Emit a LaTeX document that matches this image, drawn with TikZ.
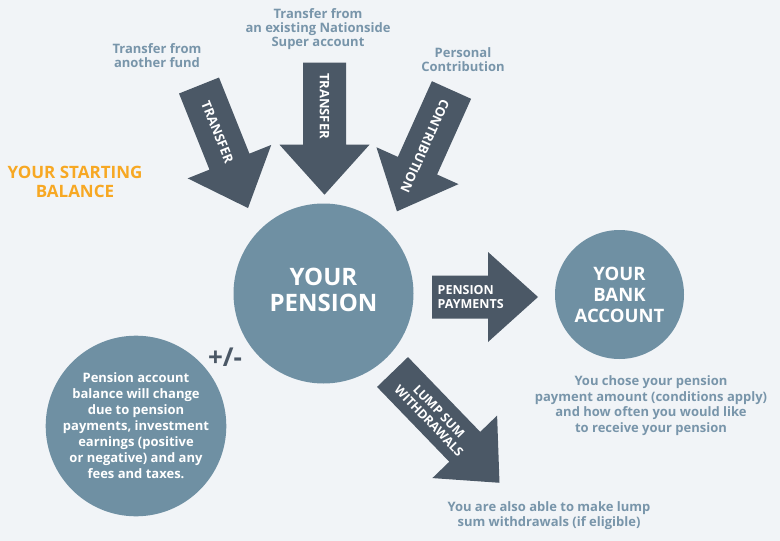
\documentclass[tikz,border=0pt]{standalone}
\usepackage{fontspec}
\setmainfont{Open Sans}
\usetikzlibrary{positioning}
\definecolor{npBack}{HTML}{F1F4F7}
\definecolor{npCircle}{HTML}{6F90A3}
\definecolor{npArrow}{HTML}{4B5866}
\definecolor{npText}{HTML}{7895AA}
\definecolor{npOrange}{HTML}{F7A823}
\tikzset{
  % circles and block arrows, sizes in pixels of the original graphic
  bigcircle/.style = {circle, fill=npCircle, text=white, align=center, inner sep=0pt},
  blocklbl/.style  = {text=white, font=\bfseries\fontsize{13}{14}\selectfont, align=center, inner sep=0pt},
  note/.style      = {text=npText, font=\bfseries\fontsize{13}{14}\selectfont, align=center, inner sep=0pt},
  pics/bigarrow/.style = {code={
    \fill[npArrow] (0,-21.5) -- ({#1-50},-21.5) -- ({#1-50},-45) -- (#1,0)
      -- ({#1-50},45) -- ({#1-50},21.5) -- (0,21.5) -- cycle;}},
}

\begin{document}
\begin{tikzpicture}[x=1pt, y=-1pt]
  \fill[npBack] (0,0) rectangle (780,541);
  \useasboundingbox (0,0) rectangle (780,541);
  % circles
  \node[bigcircle, minimum size=180pt, font=\bfseries\fontsize{24}{25.5}\selectfont]
    (pension) at (323.5,293.5) {\raisebox{3pt}{\begin{tabular}{@{}c@{}}YOUR\\PENSION\end{tabular}}};
  \node[bigcircle, minimum size=129pt, font=\bfseries\fontsize{18.5}{21}\selectfont]
    (bank) at (619.5,294.5) {YOUR\\BANK\\ACCOUNT};
  \node[bigcircle, minimum size=180pt, font=\bfseries\fontsize{13}{16}\selectfont]
    (change) at (136,426) {Pension account\\balance will change\\due to pension\\payments, investment\\earnings (positive\\or negative) and any\\fees and taxes.};
  % block arrows in and out
  \pic[rotate=-68.2] at (199,85.5) {bigarrow=132};
  \pic[rotate=-90] at (324.5,62.7) {bigarrow=132};
  \pic[rotate=-114.2] at (451.5,90) {bigarrow=133};
  \pic at (432,297) {bigarrow=106};
  \pic[rotate=-46] at (392.5,372) {bigarrow=154};
  \node[blocklbl, rotate=-68.2] (fundlbl) at (217.5,132) {TRANSFER};
  \node[blocklbl, rotate=-90] (superlbl) at (324.5,106) {TRANSFER};
  \node[blocklbl, rotate=-114.2] (contrlbl) at (425,146) {CONTRIBUTION};
  \node[blocklbl, align=left, anchor=west, font=\bfseries\fontsize{12.5}{14}\selectfont]
    (paylbl) at (437.5,297) {PENSION\\PAYMENTS};
  \node[blocklbl, rotate=-46, font=\bfseries\fontsize{12.5}{14}\selectfont]
    (lumplbl) at (434,416) {LUMP SUM\\WITHDRAWALS};
  % side notes
  \node[note] (fundnote) at (157,56) {Transfer from\\another fund};
  \node[note] (supernote) at (318,29) {Transfer from\\an existing Nationside\\Super account};
  \node[note] (contrnote) at (463,60) {Personal\\Contribution};
  \node[note, text=npOrange, font=\bfseries\fontsize{17}{19}\selectfont]
    (start) at (75,182) {YOUR STARTING\\BALANCE};
  \node[note, text=npArrow, font=\bfseries\fontsize{26}{26}\selectfont] (plusminus) at (225,357) {+/-};
  \node[note, font=\bfseries\fontsize{13}{15.7}\selectfont]
    (banknote) at (651,405.5) {You chose your pension\\payment amount (conditions apply)\\and how often you would like\\to receive your pension};
  \node[note, font=\bfseries\fontsize{13}{15.5}\selectfont]
    (lumpnote) at (549,515.5) {You are also able to make lump\\sum withdrawals (if eligible)};
\end{tikzpicture}
\end{document}
